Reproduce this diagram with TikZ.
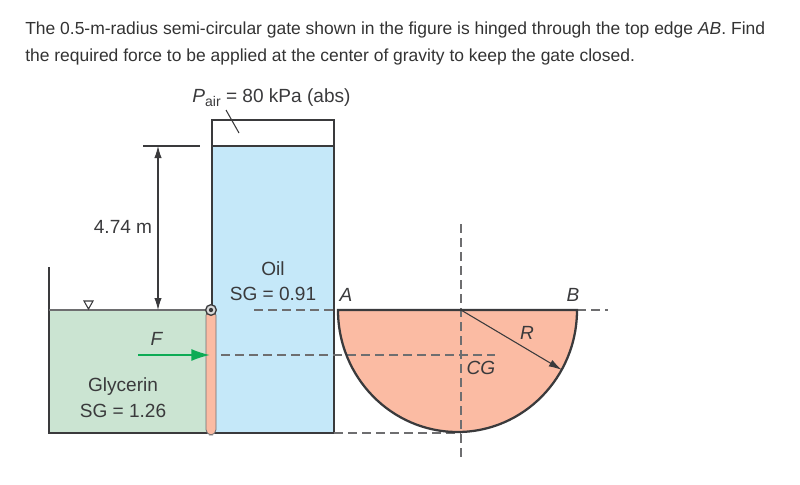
\documentclass[tikz,border=0pt]{standalone}
\usepackage{fontspec}
\setmainfont{Liberation Sans}
\usetikzlibrary{arrows.meta}
\definecolor{oilblue}{HTML}{C5E8F9}
\definecolor{glygreen}{HTML}{CBE4D2}
\definecolor{gatepink}{HTML}{FBBBA3}
\definecolor{inkgrey}{HTML}{3A3A3C}
\definecolor{dashgrey}{HTML}{6E6E70}
\definecolor{flowgreen}{HTML}{0DAB55}
\begin{document}
\begin{tikzpicture}[x=0.75pt,y=-0.75pt,
		wall/.style={draw=inkgrey,line width=2pt},
		thin line/.style={draw=inkgrey,line width=0.8pt},
		center line/.style={draw=dashgrey,line width=1pt,dash pattern=on 6.5pt off 4pt},
		tip/.style={-{Latex[length=9pt,width=5.5pt]}},
		label/.style={text=inkgrey,font=\fontsize{14.3}{16}\selectfont,inner sep=0pt},
		para/.style={text=black!80,font=\fontsize{13.1}{15}\selectfont,inner sep=0pt,anchor=base west}]
		\useasboundingbox (0,0) rectangle (800,485);
		\node[para] (line1) at (25,35) {The 0.5-m-radius semi-circular gate shown in the figure is hinged through the top edge \textit{AB}. Find};
		\node[para] (line2) at (25,62) {the required force to be applied at the center of gravity to keep the gate closed.};
		
		\coordinate (hinge) at (211,310);
		\coordinate (oilTL) at (212,146);
		\coordinate (oilBR) at (334,433);
		\coordinate (A) at (338,310);
		\coordinate (B) at (577,310);
		\coordinate (mid) at (461,310);
		
		%fluids
		\fill[oilblue] (oilTL) rectangle (oilBR);
		\fill[glygreen] (49,310) rectangle (207,433);
		
		%tank walls
		\draw[wall] (212,310) -- (212,120) -- (334,120) -- (oilBR) -- (49,433) -- (49,267);
		\draw[draw=inkgrey,line width=0.9pt] (oilTL) -- (334,146);
		\draw[draw=dashgrey,line width=1.2pt] (49,310) -- (hinge);
		
		%gate side view
		\draw[fill=gatepink,draw=dashgrey,line width=0.6pt,rounded corners=4pt] (206,310) rectangle (216,435);
		\node[circle,draw=inkgrey,fill=white!85!black,line width=1pt,minimum size=8pt,inner sep=0pt] (pin) at (hinge) {};
		\fill[inkgrey] (pin) circle (1.6pt);
		
		%gate front view
		\path[fill=gatepink] (A) arc[start angle=180,end angle=360,x radius=119.5,y radius=-122] -- cycle;
		
		%center lines
		\coordinate (gateLow) at (461,433);
		\draw[center line] (254,310) -- (A);
		\draw[center line] (B) -- (608,310);
		\draw[center line] (221,355) -- (495,355);
		\draw[center line] (oilBR) -- (gateLow);
		\draw[center line] (461,224) -- (461,458);
		
		\draw[draw=inkgrey,line width=1.7pt] (A) arc[start angle=180,end angle=360,x radius=119.5,y radius=-122] -- cycle;
		
		%dimension
		\coordinate (dimTop) at (158,146);
		\coordinate (dimLow) at (158,310);
		\draw[thin line] (143,146) -- (200,146);
		\draw[thin line,tip] (158,228) -- (dimTop);
		\draw[thin line,tip] (158,228) -- (dimLow);
		\node[label] (dim) at (123,226.5) {4.74 m};
		
		%free surface mark
		\draw[draw=inkgrey,line width=0.8pt,fill=white] (84,301) -- (93,301) -- (88.5,309) -- cycle;
		
		%air leader
		\node[label] (air) at (271.5,98) {\textit{P}\raisebox{-2.5pt}{\fontsize{10.5}{11}\selectfont air} = 80 kPa (abs)};
		\coordinate (airEnd) at (239,133);
		\draw[thin line] (226,110) -- (airEnd);
		
		%force
		\coordinate (forceTail) at (138,355);
		\coordinate (forceTip) at (210,355);
		\draw[draw=flowgreen,line width=1.2pt,-{Latex[length=14pt,width=9pt]}] (forceTail) -- (forceTip);
		\node[label] (F) at (157,339) {\textit{F}};
		
		%radius
		\coordinate (rimR) at (562,370);
		\draw[draw=inkgrey,line width=0.8pt,-{Latex[length=10pt,width=5.5pt]}] (mid) -- (rimR);
		\node[label] (R) at (527,333) {\textit{R}};
		
		\node[label] (glyName) at (123,387) {Glycerin};
		\node[label] (glySG) at (123,411) {SG = 1.26};
		\node[label] (oilName) at (273,269) {Oil};
		\node[label] (oilSG) at (273,294) {SG = 0.91};
		\node[label] (nameA) at (346,295) {\textit{A}};
		\node[label] (nameB) at (573,295) {\textit{B}};
		\node[label] (nameCG) at (481,368) {\textit{CG}};
\end{tikzpicture}
\end{document}
